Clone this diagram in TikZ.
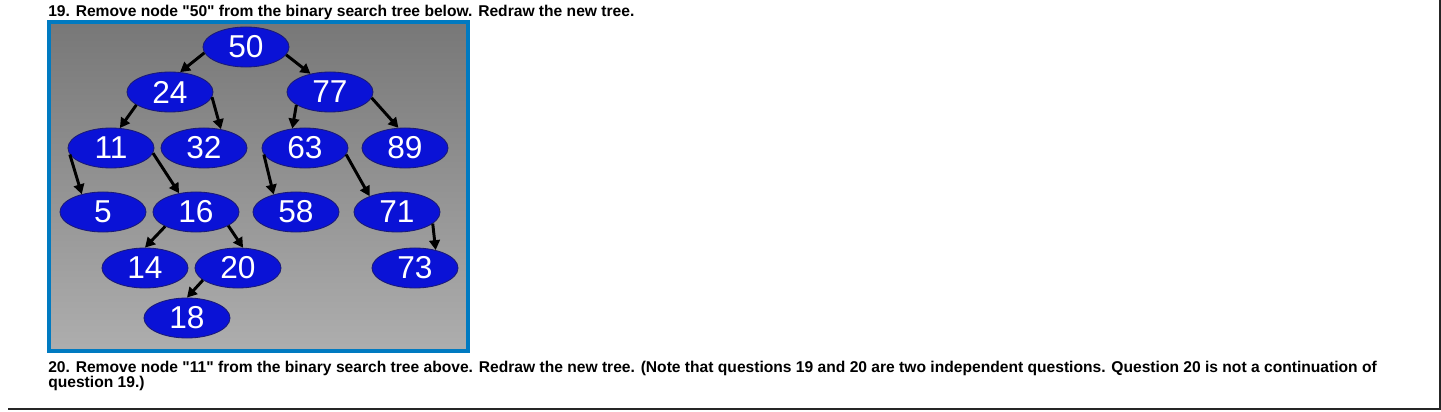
\documentclass[tikz,border=0pt]{standalone}
\usepackage{fontspec}
\setmainfont{Liberation Sans}[Ligatures=TeXOff]
\usetikzlibrary{arrows.meta}
\usetikzlibrary{shapes.geometric}

\definecolor{panelblue}{RGB}{0,122,193}
\definecolor{keyblue}{RGB}{10,18,214}
\definecolor{keyrim}{RGB}{25,25,120}

\begin{document}
\begin{tikzpicture}[x=0.025cm, y=-0.025cm,
    key/.style={ellipse, draw=keyrim, line width=0.6pt, fill=keyblue, text=white, inner sep=0pt, minimum width=2.15cm, minimum height=1cm, font=\fontsize{22.5}{22.5}\selectfont},
    link/.style={-{Triangle[length=7pt, width=7.5pt]}, line width=2.1pt, black},
    question/.style={anchor=base west, inner sep=0pt, font=\fontsize{11.1}{13}\selectfont\bfseries}]
    \useasboundingbox (0,0) rectangle (1441,412);

    \node[question] (q19) at (48,17) {19. Remove node "50" from the binary search tree below. Redraw the new tree.};

    \shade[top color=black!53, bottom color=black!32] (51,24) rectangle (466,349);
    \draw[panelblue, line width=2.85pt] (49,22) rectangle (468,351);

    \node[key] (k50) at (246,47) {50};
    \node[key] (k24) at (170,92) {24};
    \node[key] (k77) at (330,92) {77};
    \node[key] (k11) at (111,148) {11};
    \node[key] (k32) at (204,148) {32};
    \node[key] (k63) at (305,148) {63};
    \node[key] (k89) at (405,148) {89};
    \node[key] (k5) at (103,212) {5};
    \node[key] (k16) at (196,212) {16};
    \node[key] (k58) at (296,212) {58};
    \node[key] (k71) at (397,212) {71};
    \node[key] (k14) at (145,268) {14};
    \node[key] (k20) at (238,268) {20};
    \node[key] (k73) at (415,268) {73};
    \node[key] (k18) at (187,318) {18};

    \draw[link] (k50.188) -- (k24.63);
    \draw[link] (k50.349) -- (k77.137);
    \draw[link] (k24.201) -- (k11.66);
    \draw[link] (k24.353) -- (k32.48);
    \draw[link] (k77.201) -- (k63.123);
    \draw[link] (k77.352) -- (k89.108);
    \draw[link] (k11.189) -- (k5.140);
    \draw[link] (k11.353) -- (k16.132);
    \draw[link] (k63.189) -- (k58.142);
    \draw[link] (k63.351) -- (k71.150);
    \draw[link] (k16.205) -- (k14.90);
    \draw[link] (k16.337) -- (k20.76);
    \draw[link] (k71.342) -- (k73.41);
    \draw[link] (k20.199) -- (k18.90);

    \node[question] (q20a) at (48,372) {20. Remove node "11" from the binary search tree above. Redraw the new tree. (Note that questions 19 and 20 are two independent questions. Question 20 is not a continuation of};
    \node[question] (q20b) at (48,388) {question 19.)};

    \draw[line width=1.4pt, black!85] (8,409) -- (1441,409);
    \draw[line width=1.4pt, black!85] (1439.5,0) -- (1439.5,409);
\end{tikzpicture}
\end{document}
